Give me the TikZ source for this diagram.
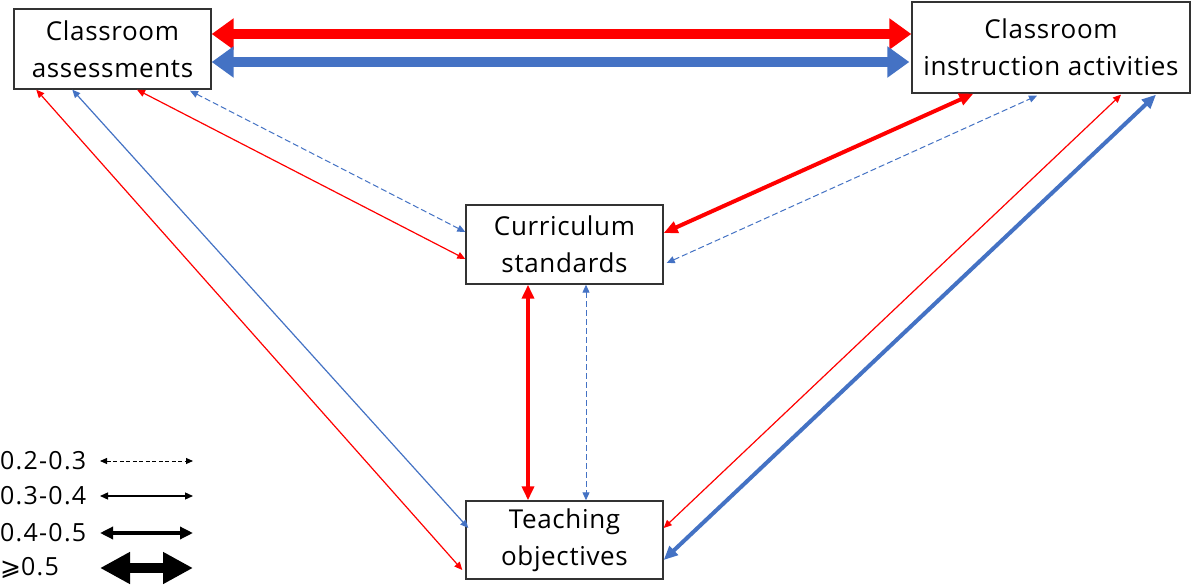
\documentclass[tikz,border=0pt]{standalone}
\usepackage{fontspec}
\setmainfont{Open Sans}
\newfontfamily\symfont{DejaVu Sans}
\usetikzlibrary{arrows.meta,calc}
\definecolor{cred}{HTML}{FF0000}
\definecolor{cblue}{HTML}{4472C4}
\definecolor{cbox}{HTML}{333333}
\begin{document}
\begin{tikzpicture}[x=1pt,y=-1pt,
  box/.style={draw=cbox,line width=1.4pt,inner sep=0pt,align=center,
    font=\fontsize{26}{37}\selectfont\addfontfeature{LetterSpace=2.5}},
  hugearrow/.style={line width=10pt,{Triangle[length=22pt,width=30pt]}-{Triangle[length=22pt,width=30pt]}},
  boldarrow/.style={line width=4pt,{Triangle[length=14pt,width=12pt]}-{Triangle[length=14pt,width=12pt]}},
  thinarrow/.style={line width=1.2pt,{Triangle[length=8pt,width=7pt]}-{Triangle[length=8pt,width=7pt]}},
  dasharrow/.style={line width=1pt,dash pattern=on 6pt off 3pt,{Triangle[length=8pt,width=7pt]}-{Triangle[length=8pt,width=7pt]}},
  legtext/.style={anchor=west,inner sep=0pt,font=\fontsize{25}{28}\selectfont\addfontfeature{LetterSpace=5}}
]
\useasboundingbox (0,0) rectangle (1200,588);
\fill[white] (0,0) rectangle (1200,588);

\node[box,minimum width=197pt,minimum height=80pt] (CA) at (112.5,49) {Classroom\\assessments};
\node[box,minimum width=278pt,minimum height=91pt] (CIA) at (1051,47.5) {Classroom\\instruction activities};
\node[box,minimum width=197pt,minimum height=79pt] (CS) at (564.5,244.5) {Curriculum\\standards};
\node[box,minimum width=197pt,minimum height=78pt] (TO) at (564.5,540) {Teaching\\objectives};

% top pair
\draw[hugearrow,cred] ($(CA.east)+(0,-15)$) -- ($(CIA.west)+(0,-13.5)$);
\draw[hugearrow,cblue] ($(CA.east)+(0,13)$) -- ($(CIA.west)+(-2,14.5)$);

% left side
\draw[thinarrow,cred] ($(CA.south west)+(23,0)$) -- ($(TO.west)+(-3,30)$);
\draw[thinarrow,cblue] ($(CA.south west)+(59,0)$) -- ($(TO.west)+(3,-12)$);
\draw[thinarrow,cred] ($(CA.south)+(24.5,0)$) -- ($(CS.west)+(0,14.5)$);
\draw[dasharrow,cblue] ($(CA.south)+(77.5,1)$) -- ($(CS.west)+(0,-12.5)$);

% right side
\draw[boldarrow,cred] ($(CS.east)+(0,-11.5)$) -- ($(CIA.south west)+(62,0)$);
\draw[dasharrow,cblue] ($(CS.east)+(3,18.5)$) -- ($(CIA.south)+(-14,2)$);
\draw[thinarrow,cred] ($(TO.east)+(0,-12)$) -- ($(CIA.south)+(70,1)$);
\draw[boldarrow,cblue] ($(TO.east)+(0,20)$) -- ($(CIA.south)+(105,1)$);

% vertical
\draw[boldarrow,cred] ($(CS.south)+(-36.5,0)$) -- ($(TO.north)+(-36.5,0)$);
\draw[dasharrow,cblue] ($(CS.south)+(21.5,0)$) -- ($(TO.north)+(21.5,0)$);

% legend
\node[legtext] (L1) at (0,461) {0.2-0.3};
\node[legtext] (L2) at (0,496) {0.3-0.4};
\node[legtext] (L3) at (0,533) {0.4-0.5};
\node[legtext] (L4) at (0,568) {{\symfont ⩾}0.5};
\coordinate (A1) at (100,461); \coordinate (B1) at (193,461);
\coordinate (A2) at (100,496); \coordinate (B2) at (193,496);
\coordinate (A3) at (100,533); \coordinate (B3) at (193,533);
\coordinate (A4) at (100,568); \coordinate (B4) at (193,568);
\draw[black,line width=1pt,dash pattern=on 4pt off 2.5pt,{Triangle[length=7pt,width=6pt]}-{Triangle[length=7pt,width=6pt]}] (A1) -- (B1);
\draw[black,line width=1.3pt,{Triangle[length=8pt,width=7pt]}-{Triangle[length=8pt,width=7pt]}] (A2) -- (B2);
\draw[black,line width=4pt,{Triangle[length=13pt,width=12pt]}-{Triangle[length=13pt,width=12pt]}] (A3) -- (B3);
\draw[black,line width=10pt,{Triangle[length=30pt,width=30pt]}-{Triangle[length=30pt,width=30pt]}] (A4) -- (B4);
\end{tikzpicture}
\end{document}
